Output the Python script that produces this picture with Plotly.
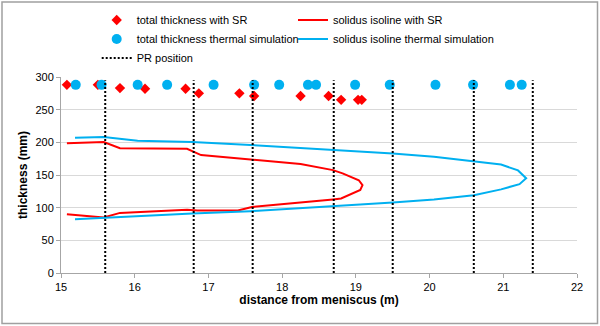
import plotly.graph_objects as go

# ---- data ----
sr_thick_x = [15.08, 15.50, 15.80, 16.14, 16.69, 16.87, 17.42, 17.62, 18.25, 18.63, 18.80, 19.03, 19.08]
sr_thick_y = [288, 288, 283, 282, 282, 275, 275, 271, 271, 271, 265, 265, 265]

ts_thick_x = [15.20, 15.55, 16.04, 16.44, 17.07, 17.62, 17.96, 18.35, 18.46, 18.99, 19.46, 20.08, 20.59, 21.09, 21.25]
ts_thick_y = [288, 288, 288, 288, 288, 288, 288, 288, 288, 288, 288, 288, 288, 288, 288]

sr_iso_x = [15.08, 15.58, 15.80, 16.71, 16.90, 17.57, 18.25, 18.69, 18.82, 19.04, 19.09, 19.06, 18.80, 18.69,
            18.25, 17.59, 17.40, 16.85, 16.71, 15.80, 15.58, 15.08]
sr_iso_y = [198.5, 200.5, 191, 190, 180.5, 174, 166.7, 157.5, 152.5, 142, 134.5, 127, 114, 112.6,
            108, 101, 95.7, 95.5, 97, 92, 85, 90]

ts_iso_x = [15.19, 15.58, 16.04, 16.78, 17.57, 18.02, 18.69, 19.50, 20.06, 20.60, 20.97, 21.20, 21.31,
            21.22, 20.97, 20.60, 20.06, 19.50, 18.69, 17.57, 16.78, 15.58, 15.19]
ts_iso_y = [207, 208, 202.5, 200.5, 196, 193, 189, 183, 178, 171, 166, 157, 145,
            136, 128, 119, 112.6, 108, 102, 94.6, 91, 84.4, 82.4]

pr_positions = [15.6, 16.8, 17.6, 18.7, 19.5, 20.6, 21.4]
pr_bottom = 0
pr_top = 295

x_ticks = [15, 16, 17, 18, 19, 20, 21, 22]
y_ticks = [0, 50, 100, 150, 200, 250, 300]

# ---- styling ----
W, H = 600, 326
ML, MR, MT, MB = 61, 23, 77, 53
PW, PH = W - ML - MR, H - MT - MB
FONT = "Liberation Sans, Arial, sans-serif"
RED = "#FF0000"
BLUE = "#00B0F0"
AXIS = "#A6A6A6"
GRID = "#D9D9D9"


def px_x(p):
    return (p - ML) / PW


def px_y(p):
    return (H - MB - p) / PH


pr_x, pr_y = [], []
for p in pr_positions:
    pr_x += [p, p, None]
    pr_y += [pr_bottom, pr_top, None]

fig = go.Figure()
fig.add_trace(go.Scatter(x=sr_thick_x, y=sr_thick_y, mode="markers", name="total thickness with SR",
                         legend="legend", legendrank=1,
                         marker=dict(symbol="diamond", size=8, color=RED)))
fig.add_trace(go.Scatter(x=sr_iso_x, y=sr_iso_y, mode="lines", name="solidus isoline with SR",
                         legend="legend2", legendrank=1,
                         line=dict(color=RED, width=2)))
fig.add_trace(go.Scatter(x=ts_thick_x, y=ts_thick_y, mode="markers", name="total thickness thermal simulation",
                         legend="legend", legendrank=2,
                         marker=dict(symbol="circle", size=10, color=BLUE)))
fig.add_trace(go.Scatter(x=ts_iso_x, y=ts_iso_y, mode="lines", name="solidus isoline thermal simulation",
                         legend="legend2", legendrank=2,
                         line=dict(color=BLUE, width=2)))
fig.add_trace(go.Scatter(x=pr_x, y=pr_y, mode="lines", name="PR position",
                         legend="legend", legendrank=3,
                         line=dict(color="#000000", width=2, dash="2px,2px")))

legend_common = dict(orientation="v", xref="paper", xanchor="left",
                     yref="container", y=1 - 5.5 / H, yanchor="top",
                     font=dict(family=FONT, size=11, color="#000000"),
                     bgcolor="rgba(0,0,0,0)", traceorder="normal")

fig.update_layout(
    width=W, height=H,
    margin=dict(l=ML, r=MR, t=MT, b=MB, autoexpand=False),
    paper_bgcolor="white", plot_bgcolor="white",
    font=dict(family=FONT, size=11, color="#000000"),
    showlegend=True,
    legend=dict(x=px_x(96.7), **legend_common),
    legend2=dict(x=px_x(293), **legend_common),
    xaxis=dict(range=[15, 22], tickvals=x_ticks, showgrid=False, zeroline=False,
               showline=True, linecolor=AXIS, linewidth=1,
               ticks="outside", ticklen=4, tickcolor=AXIS,
               tickfont=dict(family=FONT, size=11, color="#000000"),
               title=dict(text="<b>distance from meniscus (m)</b>", standoff=0,
                          font=dict(family=FONT, size=12, color="#000000"))),
    yaxis=dict(range=[0, 300], tickvals=y_ticks, showgrid=True, gridcolor=GRID, gridwidth=1,
               zeroline=False, showline=True, linecolor=AXIS, linewidth=1,
               ticks="outside", ticklen=4, tickcolor=AXIS,
               tickfont=dict(family=FONT, size=11, color="#000000"),
               title=dict(text="<b>thickness (mm)</b>", standoff=5,
                          font=dict(family=FONT, size=12, color="#000000"))),
    shapes=[dict(type="rect", xref="paper", yref="paper",
                 x0=px_x(2), x1=px_x(597.5), y0=px_y(323.5), y1=px_y(2),
                 line=dict(color="#A0A0A0", width=1.5), fillcolor="rgba(0,0,0,0)", layer="below")],
)

fig.write_html("out.html")
